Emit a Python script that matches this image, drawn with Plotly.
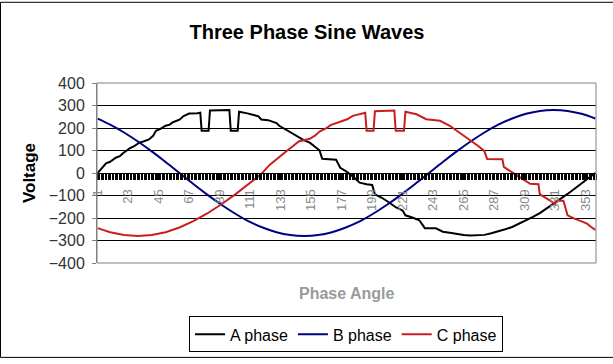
import plotly.graph_objects as go

# ---- data ----
a_x = [1, 4, 7, 10, 14, 17, 19, 22, 24, 27, 31, 34, 38, 41, 43, 46, 50, 53, 55, 58,
       60, 63, 67, 73, 75, 76, 81, 82, 90, 96, 97, 102, 103, 109, 117, 119, 124, 130,
       132, 140, 150, 154, 161, 163, 173, 176, 180, 185, 190, 195, 199, 201, 206, 211,
       216, 221, 223, 228, 233, 236, 237, 245, 250, 255, 260, 265, 270, 275, 280, 285,
       290, 295, 300, 305, 310, 315, 320, 325, 330, 335, 340, 345, 350, 355, 360]
a_y = [0, 20, 43, 50, 68, 75, 87, 100, 109, 118, 135, 140, 149, 165, 188, 195, 210, 215, 225, 232,
       237, 253, 264, 266, 268, 188, 188, 278, 280, 280, 188, 188, 272, 265, 252, 238, 235, 222,
       210, 180, 145, 135, 101, 63, 59, 23, 8, -15, -43, -50, -53, -95, -110, -130,
       -152, -167, -188, -198, -210, -236, -246, -246, -261, -266, -272, -276, -278, -277, -275, -268,
       -260, -250, -240, -226, -210, -195, -178, -157, -137, -115, -93, -70, -47, -24, 0]

b_x = [1, 10, 20, 30, 40, 50, 60, 70, 80, 90, 100, 110, 120, 130, 140, 150, 160, 170, 180,
       190, 200, 210, 220, 230, 240, 250, 260, 270, 280, 290, 300, 310, 320, 330, 340, 350, 360]
b_y = [242, 215, 180, 140, 96, 49, 0, -49, -96, -140, -180, -215, -242, -263, -276, -280, -276, -263, -242,
       -215, -180, -140, -96, -49, 0, 49, 96, 140, 180, 215, 242, 263, 276, 280, 276, 263, 242]

c_x = [1, 10, 20, 30, 40, 50, 60, 70, 80, 90, 100, 110, 119, 125, 132, 138, 142, 146, 154, 158,
       161, 166, 169, 175, 181, 185, 190, 194, 195, 200, 201, 215, 216, 222, 223, 231, 238, 248,
       255, 262, 270, 276, 280, 282, 293, 294, 300, 306, 313, 319, 320, 326, 331, 332, 337, 340,
       345, 351, 354, 357, 360]
c_y = [-245, -263, -276, -280, -276, -263, -242, -214, -180, -140, -96, -49, -5, 36, 73, 101, 120, 140, 152, 167,
       184, 199, 213, 225, 239, 254, 261, 268, 188, 188, 275, 278, 188, 188, 272, 261, 239, 232,
       210, 180, 145, 118, 97, 62, 61, 27, 3, -20, -48, -50, -95, -117, -138, -123, -123, -188,
       -203, -217, -225, -240, -253]

series_names = ["A phase", "B phase", "C phase"]
series_colors = ["#000000", "#000080", "#C81E1E"]
x_tick_labels = ["1", "23", "45", "67", "89", "111", "133", "155", "177", "199",
                 "221", "243", "265", "287", "309", "331", "353"]
y_ticks = [-400, -300, -200, -100, 0, 100, 200, 300, 400]

FONT = "Liberation Sans, Arial, sans-serif"

fig = go.Figure()
for xs, ys, name, col in zip([a_x, b_x, c_x], [a_y, b_y, c_y], series_names, series_colors):
    fig.add_trace(go.Scatter(
        x=xs, y=ys, mode="lines", name=name,
        line=dict(color=col, width=2, shape="spline" if name == "B phase" else "linear"),
    ))

L, R, T, B = 97, 17, 83, 97
W, H = 613, 364
pw, ph = W - L - R, H - T - B

def px_to_paper_x(px):
    return (px - L) / pw

def px_to_paper_y(py):
    return (H - B - py) / ph

fig.update_layout(
    width=W, height=H,
    margin=dict(l=L, r=R, t=T, b=B, pad=0),
    paper_bgcolor="white", plot_bgcolor="white",
    font=dict(family=FONT, color="black"),
    title=dict(text="<b>Three Phase Sine Waves</b>", x=307 / W, xanchor="center",
               xref="container", yref="container", y=1 - 32 / H, yanchor="middle",
               font=dict(size=20, family=FONT, color="black")),
    showlegend=True,
    legend=dict(orientation="h", x=px_to_paper_x(346), y=px_to_paper_y(340),
                xanchor="center", yanchor="middle", bgcolor="white",
                bordercolor="black", borderwidth=1,
                font=dict(size=16, family=FONT, color="black"),
                itemwidth=30, tracegroupgap=0),
    xaxis=dict(
        range=[0.5, 360.5], anchor="free", position=0.5,
        showgrid=False, zeroline=False,
        showline=True, linecolor="black", linewidth=1,
        tickmode="array", tickvals=[int(t) for t in x_tick_labels], ticktext=x_tick_labels,
        ticks="outside", ticklen=6, tickcolor="black", tickwidth=1,
        ticklabelstandoff=4,
        tickangle=-90, tickfont=dict(size=13, family=FONT, color="#8a8a8a"),
        minor=dict(tickmode="linear", tick0=0.5, dtick=1, ticks="outside",
                   ticklen=6, tickcolor="black", tickwidth=1, showgrid=False),
    ),
    yaxis=dict(
        range=[-400, 400], tickmode="array", tickvals=y_ticks,
        showgrid=True, gridcolor="black", gridwidth=1, zeroline=False,
        showline=True, linecolor="#808080", linewidth=1,
        ticks="outside", ticklen=4, tickcolor="#808080",
        ticklabelstandoff=4,
        tickfont=dict(size=16, family=FONT, color="#333333"),
        title=dict(text="<b>Voltage</b>", standoff=8,
                   font=dict(size=17, family=FONT, color="black")),
    ),
)

# plot-area border (grey), drawn on top of the top/bottom grid lines
fig.add_shape(type="rect", xref="paper", yref="paper", x0=0, x1=1, y0=0, y1=1,
              line=dict(color="#808080", width=1), layer="above")

# chart-area border (black) on top, left and bottom edges of the image
for x0, y0, x1, y1 in [(0.5, 0.5, W, 0.5), (0.5, 0.5, 0.5, H - 0.5), (0.5, H - 0.5, W, H - 0.5)]:
    fig.add_shape(type="line", xref="paper", yref="paper",
                  x0=px_to_paper_x(x0), x1=px_to_paper_x(x1),
                  y0=px_to_paper_y(y0), y1=px_to_paper_y(y1),
                  line=dict(color="black", width=1), layer="above")

# x-axis title
fig.add_annotation(text="<b>Phase Angle</b>", xref="paper", yref="paper",
                   x=px_to_paper_x(347), y=px_to_paper_y(298),
                   xanchor="center", yanchor="middle", showarrow=False,
                   font=dict(size=16, family=FONT, color="#9a9a9a"))

fig.write_html("out.html")
